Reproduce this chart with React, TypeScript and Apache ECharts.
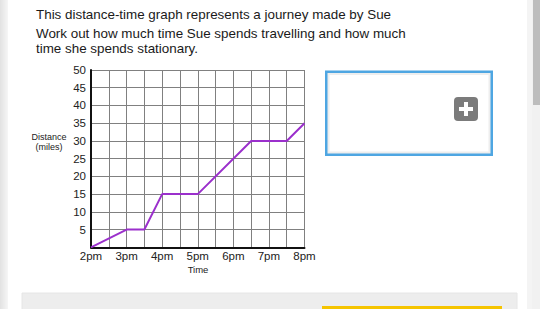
import React, { useEffect, useRef } from "react";
import * as echarts from "echarts";

// Journey data: time in hours (24h clock) and distance in miles
const times = [14, 15, 15.5, 16, 17, 18.5, 19.5, 20];
const distances = [0, 5, 5, 15, 15, 30, 30, 35];
const hourLabels = ["2pm", "3pm", "4pm", "5pm", "6pm", "7pm", "8pm"];
const titleLines = [
  "This distance-time graph represents a journey made by Sue",
  "Work out how much time Sue spends travelling and how much",
  "time she spends stationary.",
];
const yAxisTitle = ["Distance", "(miles)"];
const xAxisTitle = "Time";

const FONT = "'Liberation Sans', Arial, sans-serif";

export default function App() {
  const ref = useRef<HTMLDivElement>(null);
  useEffect(() => {
    if (!ref.current) return;
    const chart = echarts.init(ref.current, null, { renderer: "svg" });
    const titleY = [14, 33, 48];
    chart.setOption({
      animation: false,
      backgroundColor: "#ffffff",
      grid: { left: 91, right: 235.5, top: 70, bottom: 61.7, containLabel: false },
      xAxis: {
        type: "value",
        min: 14,
        max: 20,
        interval: 0.5,
        axisLine: { show: true, onZero: false, lineStyle: { color: "#111", width: 2 } },
        axisTick: { show: false },
        axisLabel: {
          color: "#222",
          fontSize: 11.5,
          fontFamily: FONT,
          margin: 3,
          formatter: (v: number) => (Number.isInteger(v) ? hourLabels[v - 14] : ""),
        },
        splitLine: { show: true, lineStyle: { color: "#808080", width: 1 } },
      },
      yAxis: {
        type: "value",
        min: 0,
        max: 50,
        interval: 5,
        axisLine: { show: true, lineStyle: { color: "#111", width: 2 } },
        axisTick: { show: false },
        axisLabel: {
          color: "#222",
          fontSize: 11.5,
          fontFamily: FONT,
          margin: 5,
          formatter: (v: number) => (v === 0 ? "" : String(v)),
        },
        splitLine: { show: true, lineStyle: { color: "#808080", width: 1 } },
      },
      series: [
        {
          type: "line",
          data: times.map((t, i) => [t, distances[i]]),
          symbol: "none",
          lineStyle: { color: "#9b30cc", width: 2 },
          z: 5,
        },
      ],
      graphic: [
        // left page shade
        {
          type: "rect",
          shape: { x: 0, y: 0, width: 8, height: 309 },
          style: {
            fill: new echarts.graphic.LinearGradient(0, 0, 1, 0, [
              { offset: 0, color: "#e2e2e2" },
              { offset: 1, color: "#f6f6f6" },
            ]),
          },
          silent: true,
        },
        // right scrollbar
        { type: "rect", shape: { x: 527, y: 0, width: 5, height: 309 }, style: { fill: "#f4f4f4" }, silent: true },
        { type: "rect", shape: { x: 532, y: 0, width: 8, height: 309 }, style: { fill: "#f1f1f1" }, silent: true },
        { type: "rect", shape: { x: 533, y: 0, width: 7, height: 105 }, style: { fill: "#bdbdbd" }, silent: true },
        // title lines
        ...titleLines.map((t, i) => ({
          type: "text",
          x: 36,
          y: titleY[i],
          style: { text: t, fill: "#1a1a1a", font: `13.4px ${FONT}`, verticalAlign: "middle", align: "left" },
        })),
        // y axis title
        {
          type: "text",
          x: 49,
          y: 136.5,
          style: { text: yAxisTitle[0], fill: "#222", font: `9px ${FONT}`, align: "center", verticalAlign: "middle" },
        },
        {
          type: "text",
          x: 49,
          y: 146.5,
          style: { text: yAxisTitle[1], fill: "#222", font: `9px ${FONT}`, align: "center", verticalAlign: "middle" },
        },
        // x axis title
        {
          type: "text",
          x: 198,
          y: 269,
          style: { text: xAxisTitle, fill: "#222", font: `9.5px ${FONT}`, align: "center", verticalAlign: "middle" },
        },
        // answer box
        {
          type: "rect",
          shape: { x: 326.5, y: 72, width: 165, height: 82.5 },
          style: { fill: "#ffffff", stroke: "#4ea6e2", lineWidth: 3 },
        },
        {
          type: "rect",
          shape: { x: 328.5, y: 74, width: 161, height: 78.5 },
          style: { fill: "none", stroke: "#eeeeee", lineWidth: 2 },
        },
        // plus icon
        {
          type: "rect",
          shape: { x: 454, y: 97, width: 24, height: 24, r: 4 },
          style: { fill: "#7b7b7b" },
        },
        { type: "rect", shape: { x: 459, y: 107, width: 14, height: 4 }, style: { fill: "#ffffff" } },
        { type: "rect", shape: { x: 464, y: 102, width: 4, height: 14 }, style: { fill: "#ffffff" } },
        // bottom panel
        {
          type: "rect",
          shape: { x: 22, y: 293, width: 495, height: 20 },
          style: { fill: "#ededed", stroke: "#e6e6e6", lineWidth: 1 },
        },
        {
          type: "rect",
          shape: { x: 322, y: 306, width: 180, height: 6 },
          style: { fill: "#f5c400" },
        },
      ],
    });
    return () => chart.dispose();
  }, []);
  return (
    <div
      ref={ref}
      style={{ position: "absolute", left: 0, top: 0, width: 540, height: 309 }}
    />
  );
}
